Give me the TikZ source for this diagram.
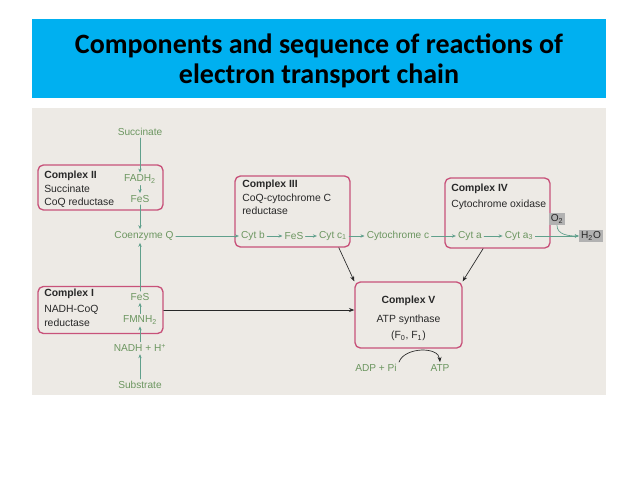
\documentclass[tikz,border=0pt]{standalone}
\usepackage{fontspec}
\setmainfont{Liberation Sans}
\newfontfamily\titlefont{Carlito}
\usetikzlibrary{arrows.meta}
\definecolor{titlecyan}{RGB}{0,176,240}
\definecolor{paper}{RGB}{237,234,229}
\definecolor{boxpink}{RGB}{200,82,122}
\definecolor{chaingreen}{RGB}{108,150,96}
\definecolor{chainline}{RGB}{96,160,140}
\definecolor{inkgray}{RGB}{40,40,40}
\definecolor{oxgray}{RGB}{178,178,178}
\tikzset{
  every picture/.style={line join=round, line cap=round, >=Stealth},
  cplx/.style={draw=boxpink, line width=1pt, rounded corners=4pt, inner sep=0pt},
  lbl/.style={font=\fontsize{7.8}{9.5}\selectfont, text=inkgray, anchor=west, inner sep=0pt, align=left},
  hd/.style={lbl, font=\fontsize{7.8}{9.5}\selectfont\bfseries},
  chem/.style={font=\fontsize{7.6}{9}\selectfont, text=chaingreen, inner sep=1.5pt},
  flow/.style={draw=chainline, line width=0.5pt, -{Stealth[length=3pt,width=2.5pt]}},
  feed/.style={draw=inkgray, line width=0.5pt, -{Stealth[length=4pt,width=3pt]}},
}

\begin{document}
\begin{tikzpicture}[x=0.75pt,y=-0.75pt]
\useasboundingbox (0,0) rectangle (638,478);
\fill[white] (0,0) rectangle (638,478);
% title bar
\fill[titlecyan] (32,19) rectangle (606,98);
\node[font=\titlefont\fontsize{21}{22.5}\selectfont\bfseries, align=center] (title) at (319,61)
  {Components and sequence of reactions of\\electron transport chain};
% page of the book
\fill[paper] (32,108) rectangle (606,395);

% complexes
\node[cplx, minimum width=93.75pt, minimum height=33.75pt] (c2) at (100.5,187.5) {};
\node[cplx, minimum width=93.75pt, minimum height=35.25pt] (c1) at (100.5,310) {};
\node[cplx, minimum width=86.25pt, minimum height=53.25pt] (c3) at (292.5,211.5) {};
\node[cplx, minimum width=78.75pt, minimum height=52.5pt] (c4) at (497.5,213) {};
\node[cplx, minimum width=80.25pt, minimum height=49.5pt] (c5) at (408.5,315) {};

\node[hd] (c2h) at (44,176) {Complex II};
\node[lbl] (c2n) at (44,196) {Succinate\\CoQ reductase};
\node[hd] (c1h) at (44,294) {Complex I};
\node[lbl, font=\fontsize{7.8}{10.5}\selectfont] (c1n) at (44,316) {NADH-CoQ\\reductase};
\node[hd] (c3h) at (242,185) {Complex III};
\node[lbl] (c3n) at (242,204) {CoQ-cytochrome C\\reductase};
\node[hd] (c4h) at (451,189) {Complex IV};
\node[lbl] (c4n) at (451,205) {Cytochrome oxidase};
\node[hd, anchor=center] (c5h) at (408.5,301) {Complex V};
\node[lbl, anchor=center] (c5n) at (408.5,320) {ATP synthase};
\node[lbl, anchor=center] (c5f) at (408.5,336) {(F\textsubscript{0}, F\textsubscript{1})};

% carriers
\node[chem] (succ) at (140,132) {Succinate};
\node[chem] (fadh) at (140,179) {FADH\textsubscript{2}};
\node[chem] (fes2) at (140,199) {FeS};
\node[chem] (coq) at (144,236) {Coenzyme Q};
\node[chem] (fes1) at (140,297) {FeS};
\node[chem] (fmnh) at (140,320) {FMNH\textsubscript{2}};
\node[chem] (nadh) at (140,348) {NADH + H\textsuperscript{+}};
\node[chem] (subs) at (140,385) {Substrate};
\node[chem] (cytb) at (253,236) {Cyt b};
\node[chem] (fes3) at (294,236) {FeS};
\node[chem] (cytc1) at (333,236) {Cyt c\textsubscript{1}};
\node[chem] (cytc) at (398,236) {Cytochrome c};
\node[chem] (cyta) at (470,236) {Cyt a};
\node[chem] (cyta3) at (519,236) {Cyt a\textsubscript{3}};
\node[chem, fill=oxgray, text=inkgray] (o2) at (557,219) {O\textsubscript{2}};
\node[chem, fill=oxgray, text=inkgray] (h2o) at (591,236) {H\textsubscript{2}O};
\node[chem] (adp) at (376,368) {ADP + Pi};
\node[chem] (atp) at (440,368) {ATP};

% electron flow
\draw[flow] (succ) -- (fadh);
\draw[flow] (fadh) -- (fes2);
\draw[flow] (fes2.south) -- (fes2.south |- coq.north);
\draw[flow] (subs) -- (nadh);
\draw[flow] (nadh) -- (fmnh);
\draw[flow] (fmnh) -- (fes1);
\draw[flow] (fes1.north) -- (fes1.north |- coq.south);
\draw[flow] (coq) -- (cytb);
\draw[flow] (cytb) -- (fes3);
\draw[flow] (fes3) -- (cytc1);
\draw[flow] (cytc1) -- (cytc);
\draw[flow] (cytc) -- (cyta);
\draw[flow] (cyta) -- (cyta3);
\draw[flow] (cyta3) -- (h2o);
\draw[flow] (o2.south) to[out=-90,in=180] (h2o.west);

% to complex V
\draw[feed] (c1.east) -- (c1.east -| c5.west);
\draw[feed] (c3.-38) -- (c5.north west);
\draw[feed] (c4.-112) -- (c5.north east);
\draw[feed] (adp.north east) to[out=70,in=95] (atp.north);
\end{tikzpicture}
\end{document}
